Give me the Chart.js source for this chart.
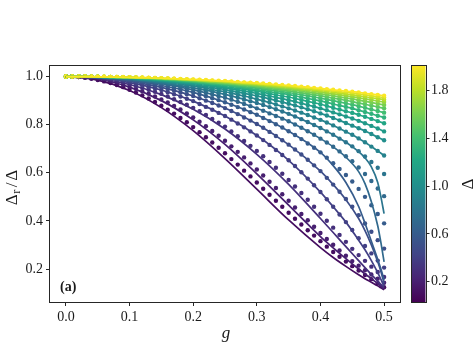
<!DOCTYPE html>
<html><head><meta charset="utf-8">
<script src="https://cdn.jsdelivr.net/npm/chart.js@4.4.0/dist/chart.umd.min.js"></script>
<style>
html,body{margin:0;padding:0;background:#fff;}
#wrap{position:relative;width:474px;height:355px;overflow:hidden;}
#main{position:absolute;left:0;top:0;}
#cbar{position:absolute;left:400px;top:0;}
</style></head><body>
<div id="wrap"><canvas id="main" width="474" height="355"></canvas><canvas id="cbar" width="74" height="355"></canvas></div>
<script>
// ---------------- data ----------------
const deltas = [0.1,0.2,0.3,0.4,0.5,0.6,0.7,0.8,0.9,1.0,1.1,1.2,1.3,1.4,1.5,1.6,1.7,1.8,1.9,2.0];
const gDots = [0,0.01,0.02,0.03,0.04,0.05,0.06,0.07,0.08,0.09,0.1,0.11,0.12,0.13,0.14,0.15,0.16,0.17,0.18,0.19,0.2,0.21,0.22,0.23,0.24,0.25,0.26,0.27,0.28,0.29,0.3,0.31,0.32,0.33,0.34,0.35,0.36,0.37,0.38,0.39,0.4,0.41,0.42,0.43,0.44,0.45,0.46,0.47,0.48,0.49,0.5];
const gLine = [0,0.05,0.1,0.15,0.2,0.25,0.3,0.35,0.4,0.42,0.44,0.46,0.47,0.48,0.49,0.495,0.5];
const xTicks = [0,0.1,0.2,0.3,0.4,0.5];
const yTicks = [0.2,0.4,0.6,0.8,1.0];
const cbTicks = [0.2,0.6,1.0,1.4,1.8];
const cbMin = 0.03, cbMax = 2.01;

// numerical points (dots), one array per Delta
const dots01 = [1,0.999,0.998,0.995,0.991,0.986,0.980,0.973,0.965,0.956,0.945,0.934,0.922,0.909,0.894,0.879,0.862,0.846,0.828,0.810,0.790,0.769,0.748,0.726,0.704,0.681,0.657,0.634,0.609,0.585,0.560,0.534,0.509,0.484,0.459,0.434,0.409,0.385,0.361,0.339,0.316,0.293,0.271,0.251,0.231,0.212,0.194,0.175,0.158,0.141,0.124];
const dots02 = [1,1,0.998,0.996,0.993,0.990,0.985,0.980,0.973,0.966,0.958,0.949,0.939,0.929,0.917,0.905,0.892,0.878,0.863,0.847,0.830,0.812,0.794,0.774,0.754,0.733,0.710,0.687,0.664,0.639,0.614,0.589,0.563,0.537,0.511,0.484,0.456,0.429,0.403,0.376,0.350,0.325,0.301,0.277,0.255,0.233,0.214,0.195,0.177,0.160,0.143];
const dots03 = [1,1,0.999,0.997,0.995,0.992,0.988,0.983,0.979,0.974,0.968,0.961,0.953,0.945,0.937,0.928,0.917,0.906,0.894,0.883,0.870,0.856,0.840,0.824,0.808,0.792,0.772,0.752,0.732,0.712,0.691,0.669,0.645,0.621,0.596,0.570,0.543,0.516,0.488,0.459,0.430,0.401,0.372,0.342,0.313,0.284,0.258,0.234,0.210,0.188,0.167];
const dots04 = [1,1,0.999,0.998,0.996,0.994,0.990,0.986,0.983,0.979,0.975,0.969,0.963,0.956,0.950,0.944,0.935,0.926,0.917,0.908,0.898,0.886,0.874,0.862,0.849,0.836,0.821,0.805,0.789,0.772,0.755,0.736,0.716,0.695,0.674,0.652,0.628,0.602,0.576,0.548,0.520,0.490,0.459,0.427,0.395,0.362,0.328,0.296,0.265,0.235,0.206];
const dots05 = [1,1,0.999,0.998,0.997,0.995,0.992,0.989,0.986,0.983,0.980,0.975,0.970,0.965,0.960,0.955,0.948,0.941,0.934,0.926,0.919,0.910,0.900,0.890,0.880,0.869,0.857,0.844,0.830,0.817,0.803,0.787,0.770,0.753,0.735,0.717,0.697,0.676,0.654,0.631,0.607,0.579,0.551,0.521,0.491,0.459,0.424,0.389,0.355,0.320,0.285];
const dots06 = [1,1,0.999,0.999,0.997,0.996,0.994,0.991,0.989,0.986,0.984,0.980,0.976,0.972,0.967,0.963,0.957,0.951,0.946,0.940,0.934,0.926,0.918,0.910,0.902,0.893,0.883,0.873,0.863,0.852,0.841,0.828,0.815,0.802,0.788,0.773,0.757,0.740,0.722,0.704,0.685,0.663,0.640,0.616,0.591,0.564,0.533,0.500,0.465,0.429,0.390];
const dots07 = [1,1,0.999,0.999,0.998,0.997,0.995,0.993,0.991,0.989,0.987,0.983,0.980,0.976,0.973,0.970,0.965,0.960,0.955,0.950,0.945,0.938,0.932,0.925,0.918,0.912,0.904,0.895,0.886,0.877,0.868,0.858,0.847,0.836,0.825,0.814,0.801,0.787,0.773,0.758,0.742,0.726,0.708,0.689,0.669,0.648,0.622,0.595,0.566,0.535,0.503];
const dots08 = [1,1,1,0.999,0.998,0.997,0.995,0.994,0.992,0.990,0.989,0.986,0.983,0.980,0.977,0.974,0.970,0.966,0.962,0.958,0.953,0.948,0.942,0.937,0.931,0.926,0.919,0.912,0.904,0.897,0.890,0.882,0.873,0.864,0.855,0.845,0.834,0.823,0.811,0.799,0.786,0.772,0.758,0.742,0.727,0.710,0.690,0.668,0.645,0.621,0.595];
const dots09 = [1,1,1,0.999,0.998,0.998,0.996,0.995,0.993,0.992,0.990,0.988,0.985,0.983,0.980,0.978,0.974,0.971,0.967,0.964,0.960,0.956,0.951,0.946,0.941,0.937,0.931,0.925,0.919,0.913,0.906,0.899,0.892,0.884,0.876,0.868,0.859,0.850,0.840,0.830,0.820,0.809,0.797,0.784,0.771,0.758,0.743,0.727,0.709,0.691,0.672];
const dots10 = [1,1,1,0.999,0.999,0.998,0.997,0.995,0.994,0.993,0.992,0.990,0.987,0.985,0.983,0.981,0.978,0.975,0.972,0.969,0.966,0.962,0.958,0.954,0.950,0.946,0.940,0.935,0.930,0.925,0.920,0.914,0.907,0.901,0.894,0.887,0.880,0.872,0.864,0.856,0.847,0.838,0.828,0.818,0.807,0.796,0.785,0.774,0.761,0.748,0.735];
const dots11 = [1,1,1,0.999,0.999,0.998,0.997,0.996,0.995,0.994,0.993,0.991,0.989,0.987,0.985,0.983,0.981,0.978,0.975,0.973,0.970,0.967,0.963,0.960,0.956,0.953,0.948,0.944,0.939,0.935,0.930,0.925,0.919,0.913,0.908,0.902,0.896,0.889,0.882,0.875,0.868,0.860,0.851,0.843,0.834,0.826,0.816,0.806,0.795,0.784,0.772];
const dots12 = [1,1,1,0.999,0.999,0.998,0.997,0.996,0.995,0.995,0.994,0.992,0.990,0.989,0.987,0.985,0.983,0.981,0.978,0.976,0.974,0.971,0.968,0.964,0.961,0.958,0.954,0.950,0.947,0.943,0.939,0.934,0.929,0.924,0.919,0.915,0.909,0.903,0.897,0.891,0.885,0.878,0.870,0.863,0.856,0.849,0.841,0.833,0.824,0.815,0.806];
const dots13 = [1,1,1,0.999,0.999,0.999,0.998,0.997,0.996,0.995,0.994,0.993,0.991,0.990,0.988,0.987,0.985,0.983,0.981,0.979,0.977,0.974,0.971,0.969,0.966,0.963,0.960,0.956,0.953,0.949,0.946,0.942,0.937,0.933,0.929,0.925,0.920,0.914,0.909,0.904,0.899,0.893,0.886,0.880,0.874,0.868,0.860,0.853,0.845,0.837,0.830];
const dots14 = [1,1,1,1,0.999,0.999,0.998,0.997,0.996,0.996,0.995,0.994,0.992,0.991,0.990,0.988,0.987,0.985,0.983,0.981,0.979,0.977,0.974,0.972,0.969,0.967,0.964,0.961,0.958,0.955,0.952,0.948,0.944,0.941,0.937,0.933,0.929,0.924,0.920,0.915,0.910,0.905,0.900,0.894,0.889,0.883,0.877,0.870,0.863,0.857,0.850];
const dots15 = [1,1,1,1,0.999,0.999,0.998,0.997,0.997,0.996,0.995,0.994,0.993,0.992,0.991,0.990,0.988,0.986,0.985,0.983,0.981,0.979,0.977,0.975,0.973,0.970,0.968,0.965,0.962,0.960,0.957,0.953,0.950,0.947,0.943,0.940,0.936,0.932,0.928,0.924,0.920,0.915,0.910,0.906,0.901,0.896,0.890,0.885,0.879,0.874,0.868];
const dots16 = [1,1,1,1,0.999,0.999,0.998,0.998,0.997,0.996,0.996,0.995,0.994,0.993,0.992,0.991,0.989,0.988,0.986,0.985,0.983,0.981,0.979,0.977,0.975,0.973,0.971,0.968,0.966,0.964,0.961,0.958,0.955,0.952,0.949,0.946,0.943,0.939,0.935,0.932,0.928,0.924,0.920,0.915,0.911,0.907,0.902,0.897,0.892,0.887,0.882];
const dots17 = [1,1,1,1,0.999,0.999,0.998,0.998,0.997,0.997,0.996,0.995,0.994,0.993,0.992,0.991,0.990,0.989,0.987,0.986,0.985,0.983,0.981,0.979,0.978,0.976,0.974,0.971,0.969,0.967,0.965,0.962,0.959,0.957,0.954,0.951,0.948,0.945,0.942,0.938,0.935,0.931,0.928,0.924,0.920,0.916,0.912,0.907,0.903,0.898,0.894];
const dots18 = [1,1,1,1,0.999,0.999,0.999,0.998,0.998,0.997,0.997,0.996,0.995,0.994,0.993,0.992,0.991,0.990,0.988,0.987,0.986,0.984,0.983,0.981,0.980,0.978,0.976,0.974,0.972,0.970,0.968,0.965,0.963,0.961,0.958,0.956,0.953,0.950,0.947,0.944,0.941,0.938,0.934,0.931,0.927,0.924,0.920,0.916,0.912,0.908,0.904];
const dots19 = [1,1,1,1,0.999,0.999,0.999,0.998,0.998,0.997,0.997,0.996,0.995,0.994,0.994,0.993,0.992,0.991,0.989,0.988,0.987,0.986,0.984,0.983,0.981,0.980,0.978,0.976,0.974,0.973,0.971,0.968,0.966,0.964,0.962,0.960,0.957,0.954,0.952,0.949,0.946,0.943,0.940,0.937,0.934,0.931,0.927,0.924,0.920,0.916,0.913];
const dots20 = [1,1,1,1,1,0.999,0.999,0.998,0.998,0.998,0.997,0.996,0.996,0.995,0.994,0.993,0.992,0.991,0.990,0.989,0.988,0.987,0.986,0.984,0.983,0.982,0.980,0.978,0.976,0.975,0.973,0.971,0.969,0.967,0.965,0.963,0.961,0.958,0.956,0.953,0.951,0.948,0.945,0.942,0.940,0.937,0.934,0.930,0.927,0.924,0.920];

// analytic curves (lines) on gLine for small Delta
const line01 = [1,0.985,0.942,0.871,0.775,0.659,0.532,0.404,0.289,0.248,0.211,0.176,0.160,0.145,0.130,0.122,0.114];
const line02 = [1,0.990,0.956,0.900,0.820,0.718,0.596,0.466,0.335,0.288,0.243,0.200,0.180,0.160,0.139,0.128,0.117];
const line03 = [1,0.992,0.967,0.925,0.864,0.782,0.677,0.552,0.410,0.352,0.293,0.235,0.206,0.177,0.150,0.136,0.122];
const line04 = [1,0.994,0.975,0.944,0.898,0.836,0.755,0.652,0.520,0.459,0.395,0.320,0.280,0.235,0.185,0.157,0.128];
const line05 = [1,0.995,0.980,0.955,0.919,0.869,0.803,0.717,0.607,0.551,0.488,0.410,0.360,0.300,0.230,0.190,0.140];
const line06 = [1,0.996,0.984,0.963,0.934,0.893,0.841,0.773,0.685,0.630,0.560,0.460,0.390,0.315,0.240,0.200,0.155];
const line07 = [1,0.997,0.987,0.970,0.945,0.912,0.868,0.814,0.742,0.708,0.665,0.605,0.555,0.480,0.380,0.310,0.230];
const line08 = [1,0.997,0.989,0.974,0.953,0.926,0.890,0.845,0.786,0.758,0.727,0.688,0.662,0.625,0.560,0.500,0.430];

const dotSeries = [dots01,dots02,dots03,dots04,dots05,dots06,dots07,dots08,dots09,dots10,dots11,dots12,dots13,dots14,dots15,dots16,dots17,dots18,dots19,dots20];
// lines for larger Delta coincide with the numerical points
const lineSeries = [line01,line02,line03,line04,line05,line06,line07,line08,dots09,dots10,dots11,dots12,dots13,dots14,dots15,dots16,dots17,dots18,dots19,dots20];

// ---------------- colours ----------------
const viridisStops = ['#440154','#482475','#414487','#355f8d','#2a788e','#21918c','#22a884','#44bf70','#7ad151','#bddf26','#fde725'];
function hex2rgb(h){return [parseInt(h.slice(1,3),16),parseInt(h.slice(3,5),16),parseInt(h.slice(5,7),16)];}
function viridis(t){
  t = Math.min(1, Math.max(0, t));
  const n = viridisStops.length - 1, p = t * n;
  const i = Math.min(n - 1, Math.floor(p)), f = p - i;
  const a = hex2rgb(viridisStops[i]), b = hex2rgb(viridisStops[i + 1]);
  return 'rgb(' + a.map((v, k) => Math.round(v + (b[k] - v) * f)).join(',') + ')';
}
const norm = d => (d - cbMin) / (cbMax - cbMin);

const FONT = '"Liberation Serif", "DejaVu Serif", serif';
const INK = '#1a1a1a';

const datasets = [];
deltas.forEach((d, i) => {
  const c = viridis(norm(d));
  const ly = lineSeries[i];
  const lx = ly.length === gDots.length ? gDots : gLine;
  datasets.push({
    data: lx.map((x, k) => ({x: x, y: ly[k]})),
    showLine: true, borderColor: c, borderWidth: 1.7, pointRadius: 0,
    cubicInterpolationMode: 'monotone', fill: false, order: 100 - i
  });
  datasets.push({
    data: gDots.map((x, k) => ({x: x, y: dotSeries[i][k]})),
    showLine: false, backgroundColor: c, borderWidth: 0, pointRadius: 2.2,
    pointHoverRadius: 2.2, order: 200 - i
  });
});

const framePlugin = {
  id: 'frame',
  afterDraw(chart) {
    const {ctx, chartArea: a} = chart;
    ctx.save();
    ctx.strokeStyle = '#262626'; ctx.lineWidth = 1;
    ctx.strokeRect(Math.round(a.left) - 0.5, Math.round(a.top) - 0.5, Math.round(a.right) - Math.round(a.left) + 1, Math.round(a.bottom) - Math.round(a.top) + 1);
    // y title  Δ_r / Δ
    ctx.fillStyle = INK;
    ctx.translate(11, 187); ctx.rotate(-Math.PI / 2);
    ctx.textBaseline = 'alphabetic'; ctx.textAlign = 'left';
    const big = '17px ' + FONT, small = '12px ' + FONT;
    ctx.font = big; const w1 = ctx.measureText('Δ').width;
    ctx.font = small; const w2 = ctx.measureText('r').width;
    ctx.font = big; const w3 = ctx.measureText('/').width;
    const w4 = w1;
    const gap = 2;
    let x = -(w1 + w2 + w3 + w4 + 3 * gap) / 2; const base = 6;
    ctx.font = big; ctx.fillText('Δ', x, base); x += w1 + 0.5;
    ctx.font = small; ctx.fillText('r', x, base + 3); x += w2 + gap + 0.5;
    ctx.font = big; ctx.fillText('/', x, base); x += w3 + gap;
    ctx.fillText('Δ', x, base);
    ctx.restore();
    ctx.save();
    ctx.fillStyle = INK;
    ctx.font = 'italic 17px ' + FONT; ctx.textAlign = 'center'; ctx.textBaseline = 'alphabetic';
    ctx.fillText('g', 226, 338);
    ctx.font = 'bold 14px ' + FONT; ctx.textAlign = 'left';
    ctx.fillText('(a)', 60, 291);
    ctx.restore();
  }
};

const tickFont = {family: FONT, size: 14};

new Chart(document.getElementById('main'), {
  type: 'scatter',
  data: {datasets: datasets},
  options: {
    responsive: false, animation: false, events: [],
    layout: {padding: {top: 65.5, right: 74, left: 0, bottom: 0}},
    plugins: {legend: {display: false}, tooltip: {enabled: false}},
    scales: {
      x: {
        type: 'linear', min: -0.025, max: 0.525,
        afterBuildTicks: s => { s.ticks = xTicks.map(v => ({value: v})); },
        afterFit: s => { s.height = 53; },
        grid: {drawOnChartArea: false, drawTicks: true, tickLength: 4, tickColor: '#262626', tickWidth: 1},
        border: {display: false},
        ticks: {font: tickFont, color: INK, padding: 3, maxRotation: 0, autoSkip: false, callback: v => v.toFixed(1)}
      },
      y: {
        type: 'linear', min: 0.063, max: 1.046,
        afterBuildTicks: s => { s.ticks = yTicks.map(v => ({value: v})); },
        afterFit: s => { s.width = 50; },
        grid: {drawOnChartArea: false, drawTicks: true, tickLength: 4, tickColor: '#262626', tickWidth: 1},
        border: {display: false},
        ticks: {font: tickFont, color: INK, padding: 3, autoSkip: false, callback: v => v.toFixed(1)}
      }
    }
  },
  plugins: [framePlugin]
});

const cbPlugin = {
  id: 'cbar',
  beforeDatasetsDraw(chart) {
    const {ctx, chartArea: a} = chart;
    const ys = chart.scales.y;
    const g = ctx.createLinearGradient(0, ys.getPixelForValue(cbMin), 0, ys.getPixelForValue(cbMax));
    viridisStops.forEach((c, k) => g.addColorStop(k / (viridisStops.length - 1), c));
    ctx.save();
    ctx.fillStyle = g;
    ctx.fillRect(a.left, a.top, a.right - a.left, a.bottom - a.top);
    ctx.strokeStyle = '#262626'; ctx.lineWidth = 1;
    ctx.strokeRect(Math.round(a.left) - 0.5, Math.round(a.top) - 0.5, Math.round(a.right) - Math.round(a.left) + 1, Math.round(a.bottom) - Math.round(a.top) + 1);
    ctx.restore();
  },
  afterDraw(chart) {
    const ctx = chart.ctx;
    ctx.save();
    ctx.fillStyle = INK; ctx.font = '17px ' + FONT;
    ctx.translate(66.5, 184); ctx.rotate(-Math.PI / 2);
    ctx.textAlign = 'center'; ctx.textBaseline = 'alphabetic';
    ctx.fillText('Δ', 0, 6);
    ctx.restore();
  }
};

new Chart(document.getElementById('cbar'), {
  type: 'scatter',
  data: {datasets: []},
  options: {
    responsive: false, animation: false, events: [],
    layout: {padding: {top: 65.5, left: 12, bottom: 53, right: 0}},
    plugins: {legend: {display: false}, tooltip: {enabled: false}},
    scales: {
      x: {display: false, min: 0, max: 1},
      y: {
        position: 'right', min: cbMin, max: cbMax,
        afterBuildTicks: s => { s.ticks = cbTicks.map(v => ({value: v})); },
        afterFit: s => { s.width = 48.5; },
        grid: {drawOnChartArea: false, drawTicks: true, tickLength: 4, tickColor: '#262626', tickWidth: 1},
        border: {display: false},
        ticks: {font: tickFont, color: INK, padding: 1.5, autoSkip: false, callback: v => v.toFixed(1)}
      }
    }
  },
  plugins: [cbPlugin]
});
</script>
</body></html>
